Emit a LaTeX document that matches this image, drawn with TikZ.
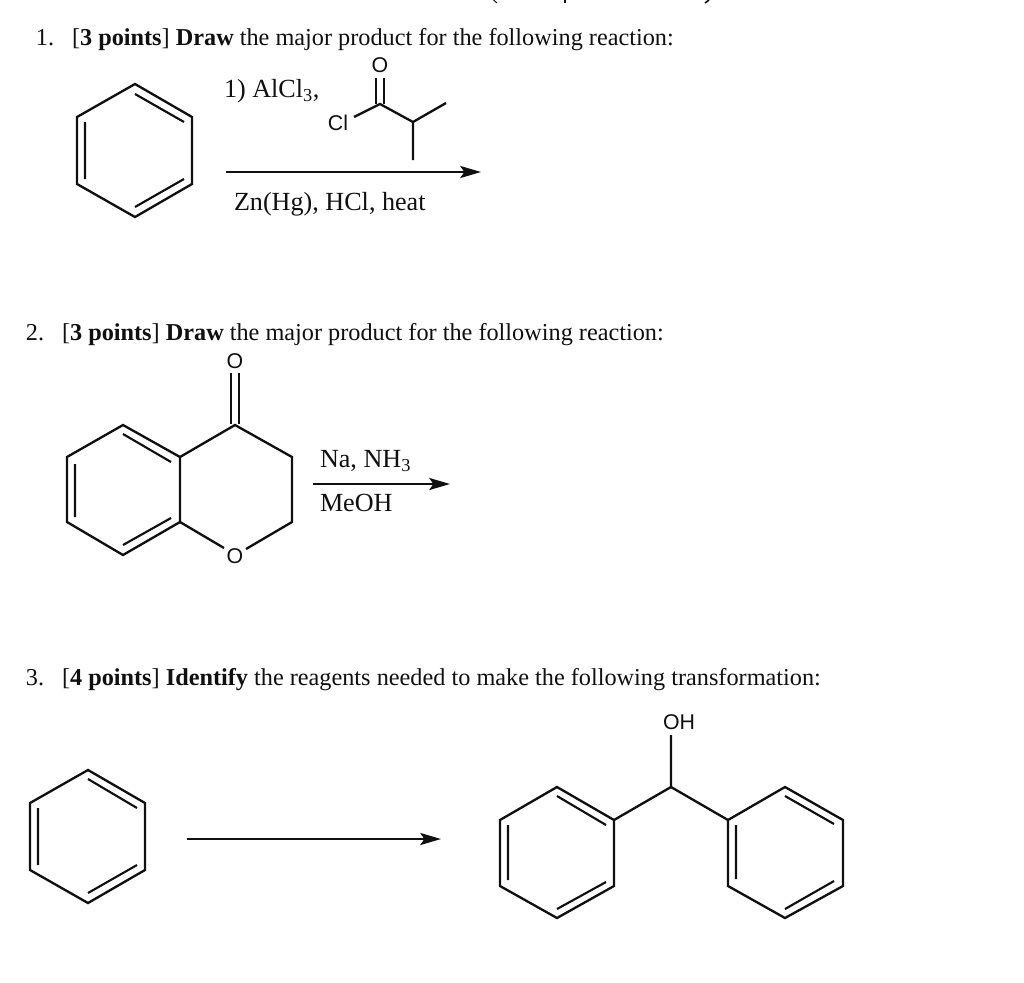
\documentclass[tikz,border=0pt]{standalone}
\usepackage{fontspec}
\setmainfont{Liberation Serif}
\newfontfamily\chemfont{Liberation Sans}
\usetikzlibrary{arrows.meta}
\definecolor{ink}{HTML}{101010}
\tikzset{
  bond/.style={draw=ink,line width=1.75pt,line join=miter,line cap=butt},
  inner bond/.style={draw=ink,line width=1.6pt,line cap=butt},
  rxn/.style={draw=ink,line width=1.7pt,-{Stealth[length=15.5pt,width=9pt,inset=3pt]}},
  body/.style={anchor=base west,inner sep=0pt,outer sep=0pt,font=\fontsize{18.2}{22}\selectfont,text=ink},
  reagent/.style={anchor=base west,inner sep=0pt,outer sep=0pt,font=\fontsize{19.6}{23}\selectfont,text=ink},
  atom/.style={inner sep=0pt,outer sep=0pt,font=\chemfont\fontsize{16}{19}\selectfont,text=ink}
}
\begin{document}
\begin{tikzpicture}[x=0.75pt,y=-0.75pt]
\useasboundingbox (0,0) rectangle (1024,982);
\fill[white] (0,0) rectangle (1024,982);
% clipped fragments of the line above
\draw[ink,line width=.7pt] (493.5,0) -- (497,3);
\draw[ink,line width=1.6pt] (565,0) -- (565,3);
\draw[ink,line width=1.2pt] (709,0) -- (705,3);
% Question headings
\node[body] (n1) at (36,45) {1.};
\node[body] (q1) at (72,45) {[\textbf{3 points}] \textbf{Draw} the major product for the following reaction:};
\node[body] (n2) at (26,340) {2.};
\node[body] (q2) at (62,340) {[\textbf{3 points}] \textbf{Draw} the major product for the following reaction:};
\node[body] (n3) at (26,685) {3.};
\node[body] (q3) at (62,685) {[\textbf{4 points}] \textbf{Identify} the reagents needed to make the following transformation:};
% Benzene 1
\coordinate (a1) at (135,84);\coordinate (a2) at (192,117);\coordinate (a3) at (192,184);
\coordinate (a4) at (135,217);\coordinate (a5) at (77,184);\coordinate (a6) at (77,117);
\draw[bond] (a1)--(a2)--(a3)--(a4)--(a5)--(a6)--cycle;
\coordinate (a7) at (135,94);\coordinate (a8) at (184,122);
\coordinate (a9) at (85,122);\coordinate (a10) at (85,179);
\coordinate (a11) at (135,207);\coordinate (a12) at (184,179);
\draw[inner bond] (a7)--(a8) (a9)--(a10) (a11)--(a12);
% Acyl chloride
\node[atom] (ao) at (380,65) {O};
\node[atom] (acl) at (338,123) {Cl};
\coordinate (ac) at (380,104);\coordinate (ach) at (413,122);
\coordinate (am1) at (446,103);\coordinate (am2) at (413,160);
\coordinate (acl1) at (354,117);
\coordinate (ad1) at (376,78);\coordinate (ad2) at (376,104);
\coordinate (ad3) at (384,78);\coordinate (ad4) at (384,104);
\draw[bond] (acl1)--(ac)--(ach)--(am1) (ach)--(am2);
\draw[bond] (ad1)--(ad2) (ad3)--(ad4);
\node[reagent] (r1a) at (224,97) {1) AlCl\textsubscript{3},};
\node[reagent] (r1b) at (234,210) {Zn(Hg), HCl, heat};
\coordinate (w1s) at (226,172);\coordinate (w1e) at (481,172);
\draw[rxn] (w1s)--(w1e);
% Chromanone
\coordinate (b1) at (123,425);\coordinate (b2) at (180,457);\coordinate (b3) at (180,522);
\coordinate (b4) at (123,555);\coordinate (b5) at (67,522);\coordinate (b6) at (67,457);
\draw[bond] (b1)--(b2)--(b3)--(b4)--(b5)--(b6)--cycle;
\coordinate (b7) at (123,434);\coordinate (b8) at (171,462);
\coordinate (b9) at (75,464);\coordinate (b10) at (75,517);
\coordinate (b11) at (123,545);\coordinate (b12) at (171,518);
\draw[inner bond] (b7)--(b8) (b9)--(b10) (b11)--(b12);
\coordinate (bc) at (235,425);\coordinate (bd) at (292,457);\coordinate (be) at (292,522);
\node[atom] (bo) at (235,361) {O};
\node[atom] (bor) at (235,556) {O};
\coordinate (bo1) at (224,548);\coordinate (bo2) at (246,549);
\draw[bond] (b2)--(bc)--(bd)--(be)--(bo2) (b3)--(bo1);
\coordinate (bd1) at (231,373);\coordinate (bd2) at (231,424);
\coordinate (bd3) at (239,373);\coordinate (bd4) at (239,424);
\draw[bond] (bd1)--(bd2) (bd3)--(bd4);
\node[reagent] (r2a) at (320,467) {Na, NH\textsubscript{3}};
\node[reagent] (r2b) at (320,511) {MeOH};
\coordinate (w2s) at (313,484);\coordinate (w2e) at (450,484);
\draw[rxn] (w2s)--(w2e);
% Benzene 3
\coordinate (c1) at (88,770);\coordinate (c2) at (145,803);\coordinate (c3) at (145,870);
\coordinate (c4) at (88,903);\coordinate (c5) at (30,870);\coordinate (c6) at (30,803);
\draw[bond] (c1)--(c2)--(c3)--(c4)--(c5)--(c6)--cycle;
\coordinate (c7) at (88,779);\coordinate (c8) at (137,808);
\coordinate (c9) at (38,808);\coordinate (c10) at (38,865);
\coordinate (c11) at (88,893);\coordinate (c12) at (137,865);
\draw[inner bond] (c7)--(c8) (c9)--(c10) (c11)--(c12);
\coordinate (w3s) at (187,839);\coordinate (w3e) at (441,839);
\draw[rxn] (w3s)--(w3e);
% Benzhydrol, left ring
\coordinate (d1) at (557,787);\coordinate (d2) at (614,820);\coordinate (d3) at (614,886);
\coordinate (d4) at (557,918);\coordinate (d5) at (500,886);\coordinate (d6) at (500,820);
\draw[bond] (d1)--(d2)--(d3)--(d4)--(d5)--(d6)--cycle;
\coordinate (d7) at (557,796);\coordinate (d8) at (606,825);
\coordinate (d9) at (508,825);\coordinate (d10) at (508,880);
\coordinate (d11) at (557,909);\coordinate (d12) at (606,882);
\draw[inner bond] (d7)--(d8) (d9)--(d10) (d11)--(d12);
% right ring
\coordinate (f1) at (785,787);\coordinate (f2) at (843,820);\coordinate (f3) at (843,886);
\coordinate (f4) at (785,918);\coordinate (f5) at (728,886);\coordinate (f6) at (728,820);
\draw[bond] (f1)--(f2)--(f3)--(f4)--(f5)--(f6)--cycle;
\coordinate (f7) at (785,796);\coordinate (f8) at (834,824);
\coordinate (f9) at (736,825);\coordinate (f10) at (736,879);
\coordinate (f11) at (785,909);\coordinate (f12) at (834,881);
\draw[inner bond] (f7)--(f8) (f9)--(f10) (f11)--(f12);
% carbinol
\coordinate (g) at (671,787);\coordinate (g1) at (671,735);
\node[atom] (goh) at (679,722) {OH};
\draw[bond] (d2)--(g)--(f6) (g)--(g1);
\end{tikzpicture}
\end{document}
